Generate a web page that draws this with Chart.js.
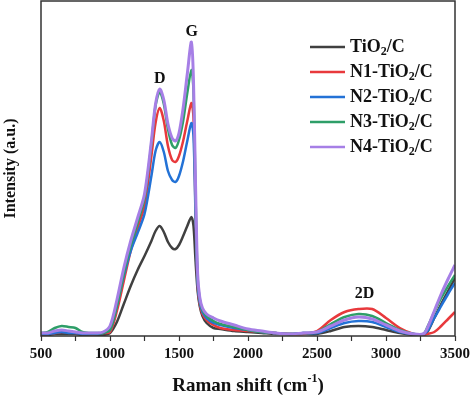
<!DOCTYPE html>
<html>
<head>
<meta charset="utf-8">
<script src="https://cdn.jsdelivr.net/npm/chart.js@4.4.1/dist/chart.umd.min.js"></script>
<style>
  html, body { margin: 0; padding: 0; background: #fff; }
  #ramanChart { display: block; }
</style>
</head>
<body>
<canvas id="ramanChart" width="474" height="397"></canvas>
<script>
// Raman shift (cm-1), shared by every spectrum
var shifts = [500, 550, 600, 650, 700, 750, 800, 850, 900, 950,
    1000, 1050, 1100, 1150, 1200, 1250, 1300, 1330, 1360, 1390,
    1420, 1450, 1475, 1500, 1530, 1560, 1590, 1605, 1620, 1635,
    1650, 1670, 1700, 1750, 1800, 1900, 2000, 2100, 2200, 2300,
    2400, 2500, 2600, 2700, 2800, 2900, 3000, 3100, 3200, 3270,
    3300, 3350, 3400, 3450, 3500];

// intensities (a.u.)
var tio2c = [1, 1, 2, 2, 2, 2, 1, 1, 1, 1,
    3, 14, 32, 50, 66, 80, 95, 105, 110, 104,
    94, 88, 87, 91, 100, 110, 119, 110, 75, 45,
    30, 20, 13, 8, 7, 5, 4, 3, 2, 2,
    2, 2, 5, 9, 10, 9, 6, 3, 1, 1,
    4, 18, 32, 45, 58];
var n1 = [2, 2, 3, 4, 4, 3, 3, 2, 2, 3,
    4, 25, 55, 85, 108, 130, 180, 213, 228, 215,
    190, 176, 174, 180, 195, 215, 233, 218, 125, 50,
    32, 22, 16, 11, 8, 6, 5, 4, 3, 2,
    2, 5, 16, 24, 27, 27, 18, 8, 2, 1,
    2, 4, 10, 17, 24];
var n2 = [2, 2, 3, 4, 3, 3, 2, 2, 2, 3,
    6, 30, 60, 85, 103, 122, 160, 185, 194, 184,
    165, 156, 154, 160, 175, 195, 213, 200, 120, 52,
    34, 24, 18, 13, 11, 8, 6, 4, 3, 2,
    3, 3, 8, 13, 15, 14, 9, 4, 2, 2,
    5, 18, 30, 42, 53];
var n3 = [3, 4, 8, 10, 9, 8, 4, 3, 3, 3,
    6, 30, 62, 90, 113, 138, 192, 230, 244, 232,
    207, 191, 188, 196, 215, 243, 266, 245, 140, 58,
    37, 26, 20, 15, 12, 9, 6, 4, 3, 2,
    3, 4, 12, 19, 22, 20, 13, 6, 2, 2,
    9, 24, 38, 50, 61];
var n4 = [3, 3, 5, 6, 5, 4, 3, 3, 3, 4,
    10, 36, 68, 95, 118, 142, 195, 232, 247, 236,
    212, 198, 195, 203, 228, 262, 294, 255, 150, 62,
    39, 28, 22, 18, 15, 11, 7, 5, 3, 2,
    3, 4, 10, 16, 19, 17, 11, 5, 2, 2,
    8, 25, 42, 57, 71];

var seriesNames = ['TiO|2|/C', 'N1-TiO|2|/C', 'N2-TiO|2|/C', 'N3-TiO|2|/C', 'N4-TiO|2|/C'];
var seriesValues = [tio2c, n1, n2, n3, n4];
var seriesColors = ['#404040', '#e8393c', '#2372d6', '#2e9e68', '#a67fe6'];
var xTicks = [500, 1000, 1500, 2000, 2500, 3000, 3500];

// peak labels: [text, shift, intensity]
var peakLabels = [['D', 1360, 257], ['G', 1592, 304], ['2D', 2845, 42]];

var serif = '"Liberation Serif", "DejaVu Serif", serif';

function toPoints(vals) {
    return shifts.map((s, i) => ({x: s, y: vals[i]}));
}

// draws "TiO|2|/C" style text with a subscript part
function drawSubText(ctx, text, x, y, size) {
    var parts = text.split('|');
    ctx.textBaseline = 'middle';
    ctx.textAlign = 'left';
    parts.forEach((p, i) => {
        var sub = i % 2 === 1;
        ctx.font = 'bold ' + (sub ? Math.round(size * 0.65) : size) + 'px ' + serif;
        ctx.fillText(p, x, sub ? y + size * 0.3 : y);
        x += ctx.measureText(p).width;
    });
}

var decorations = {
    id: 'decorations',
    afterDraw(chart) {
        var ctx = chart.ctx;
        var area = chart.chartArea;
        var xs = chart.scales.x, ys = chart.scales.y;
        ctx.save();

        // frame
        ctx.strokeStyle = '#333';
        ctx.lineWidth = 1.5;
        ctx.strokeRect(area.left, area.top, area.right - area.left, area.bottom - area.top);

        // legend
        seriesNames.forEach((name, i) => {
            var y = 47 + i * 25;
            ctx.strokeStyle = seriesColors[i];
            ctx.lineWidth = 2.5;
            ctx.beginPath();
            ctx.moveTo(310, y);
            ctx.lineTo(345, y);
            ctx.stroke();
            ctx.fillStyle = '#111';
            drawSubText(ctx, name, 350, y, 18);
        });

        // peak labels
        ctx.fillStyle = '#111';
        ctx.font = 'bold 16px ' + serif;
        ctx.textAlign = 'center';
        ctx.textBaseline = 'middle';
        peakLabels.forEach((p) => {
            ctx.fillText(p[0], xs.getPixelForValue(p[1]), ys.getPixelForValue(p[2]));
        });

        // x axis title with superscript
        var size = 19;
        ctx.font = 'bold ' + size + 'px ' + serif;
        var a = 'Raman shift (cm', b = '-1', c = ')';
        var wa = ctx.measureText(a).width, wc = ctx.measureText(c).width;
        ctx.font = 'bold 12px ' + serif;
        var wb = ctx.measureText(b).width;
        var x0 = (area.left + area.right) / 2 - (wa + wb + wc) / 2;
        var ty = 386;
        ctx.textAlign = 'left';
        ctx.font = 'bold ' + size + 'px ' + serif;
        ctx.fillText(a, x0, ty);
        ctx.font = 'bold 12px ' + serif;
        ctx.fillText(b, x0 + wa, ty - 7);
        ctx.font = 'bold ' + size + 'px ' + serif;
        ctx.fillText(c, x0 + wa + wb, ty);

        ctx.restore();
    }
};

var datasets = seriesValues.map((vals, i) => ({
    label: seriesNames[i].replace(/\|/g, ''),
    data: toPoints(vals),
    borderColor: seriesColors[i],
    backgroundColor: seriesColors[i],
    borderWidth: i === 4 ? 3 : 2.5,
    pointRadius: 0,
    tension: 0.3,
    order: 4 - i
}));

var ramanChart = new Chart(document.getElementById('ramanChart'), {
    type: 'line',
    data: {datasets: datasets},
    options: {
        responsive: false,
        devicePixelRatio: 1,
        animation: false,
        layout: {padding: {top: 1, right: 17, left: 0, bottom: 0}},
        plugins: {
            legend: {display: false},
            tooltip: {enabled: false}
        },
        scales: {
            x: {
                type: 'linear',
                min: 500,
                max: 3500,
                afterFit: (scale) => { scale.height = 61; },
                border: {display: false},
                grid: {
                    drawOnChartArea: false,
                    drawTicks: true,
                    tickLength: 5,
                    color: '#333',
                    tickColor: '#333',
                    tickWidth: 1.2
                },
                ticks: {
                    stepSize: 250,
                    autoSkip: false,
                    maxRotation: 0,
                    padding: 4,
                    color: '#111',
                    font: {family: serif, size: 15, weight: 'bold'},
                    callback: (v) => xTicks.includes(v) ? String(v) : ''
                }
            },
            y: {
                min: 0,
                max: 335,
                afterFit: (scale) => { scale.width = 41; },
                border: {display: false},
                grid: {display: false},
                ticks: {display: false},
                title: {
                    display: true,
                    text: 'Intensity (a.u.)',
                    color: '#111',
                    padding: {top: 1, bottom: 0},
                    font: {family: serif, size: 16, weight: 'bold'}
                }
            }
        }
    },
    plugins: [decorations]
});
</script>
</body>
</html>
